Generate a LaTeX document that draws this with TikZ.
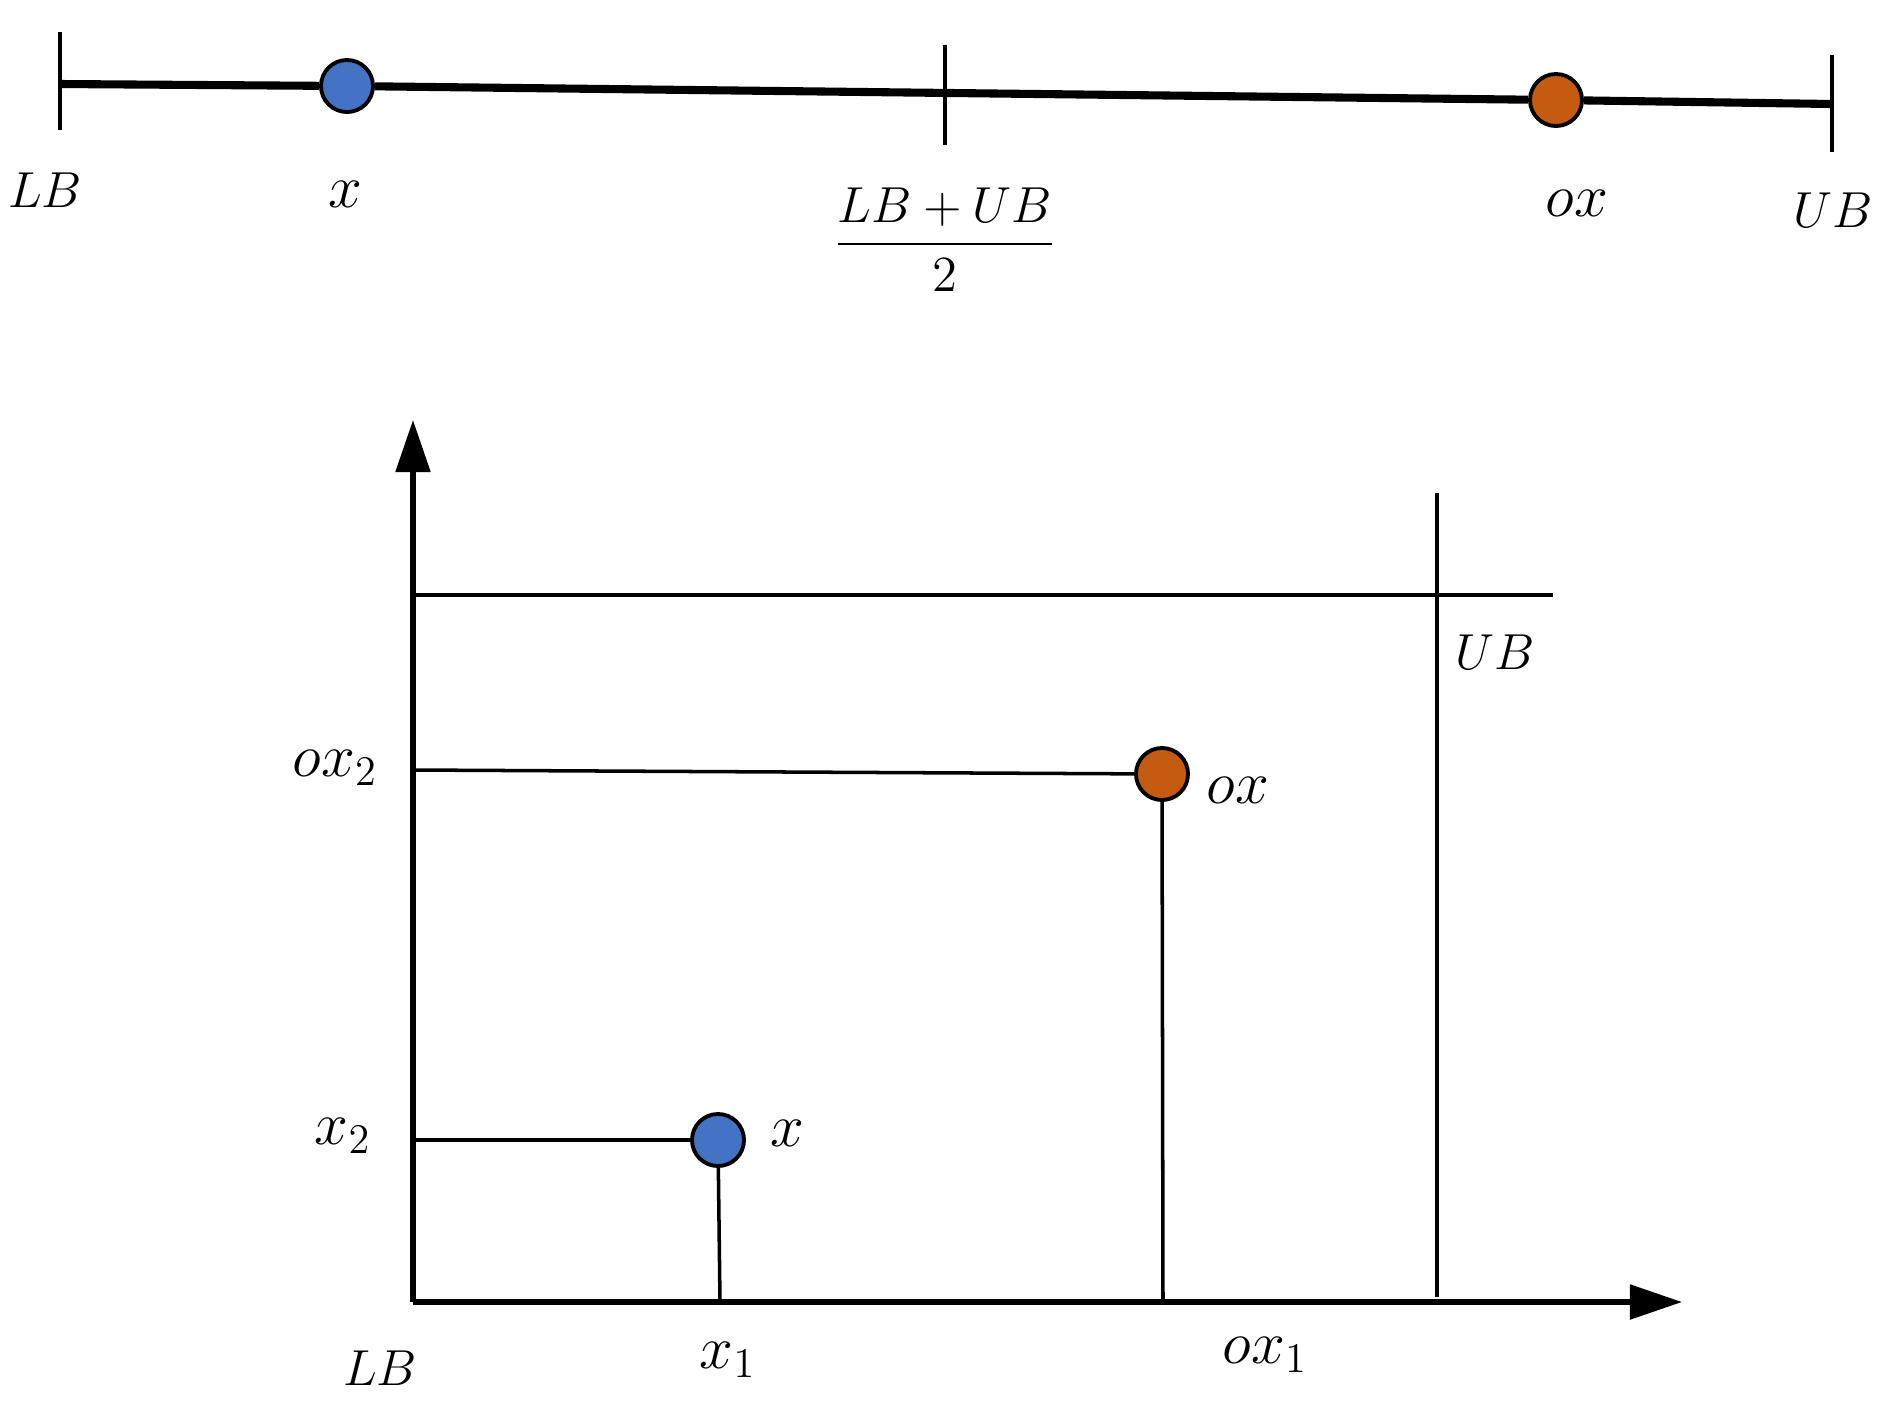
\documentclass[tikz,border=0pt]{standalone}
\usepackage{amsmath}
\usetikzlibrary{arrows.meta}

\tikzset{
	pt/.style={shape=circle,draw=black,line width=1.1pt,minimum size=0.52cm,inner sep=0pt},
	lbl/.style={font=\fontsize{15}{18}\selectfont},
	axis/.style={line width=1.5pt,-{Triangle[length=0.52cm,width=0.34cm]}},
	thin/.style={line width=1pt}
}
\definecolor{ptblue}{RGB}{68,114,196}
\definecolor{ptorange}{RGB}{197,90,17}

\begin{document}
\begin{tikzpicture}[x=0.01cm,y=-0.01cm]
	\useasboundingbox (0,0) rectangle (1878,1411);
	
	% top: the range
	\coordinate (lb) at (60,84);
	\coordinate (mid) at (945,94);
	\coordinate (ub) at (1832,104);
	\node[pt,fill=ptblue]   (x)  at (347,86)   {};
	\node[pt,fill=ptorange] (ox) at (1556,100) {};
	\draw[line width=2.3pt] (lb) -- (x) -- (ox) -- (ub);
	\draw[line width=1.2pt] (60,32) -- (60,130);
	\draw[line width=1.2pt] (945,45) -- (945,145);
	\draw[line width=1.2pt] (1832,55) -- (1832,152);
	\node[lbl] (lbt)  at (45,190)   {$LB$};
	\node[lbl] (xt)   at (345,194)  {\fontsize{17}{20}\selectfont$x$};
	\node[lbl] (midt) at (945,240)  {$\dfrac{LB+UB}{2}$};
	\node[lbl] (oxt)  at (1577,203) {\fontsize{17}{20}\selectfont$ox$};
	\node[lbl] (ubt)  at (1833,210) {$UB$};
	
	% bottom: the plane
	\coordinate (o) at (413,1302);
	\coordinate (xend) at (1682,1302);
	\coordinate (yend) at (413,420);
	\node[pt,fill=ptblue]   (p)  at (718,1140) {};
	\node[pt,fill=ptorange] (op) at (1162,774) {};
	\coordinate (px) at (720,1302);
	\coordinate (py) at (413,1140);
	\coordinate (opx) at (1163,1302);
	\coordinate (opy) at (413,770);
	\draw[axis] (o) -- (xend);
	\draw[axis] (o) -- (yend);
	\draw[thin] (413,595) -- (1553,595);
	\draw[thin] (1437,493) -- (1437,1297);
	\draw[thin] (py) -- (p);
	\draw[thin] (p) -- (px);
	\draw[thin] (opy) -- (op);
	\draw[thin] (op) -- (opx);
	\node[lbl] (ubb)  at (1495,652)  {$UB$};
	\node[lbl] (ox2)  at (335,768)   {\fontsize{17}{20}\selectfont$ox_2$};
	\node[lbl] (x2)   at (343,1136)  {\fontsize{17}{20}\selectfont$x_2$};
	\node[lbl] (pl)   at (787,1133)  {\fontsize{17}{20}\selectfont$x$};
	\node[lbl] (opl)  at (1238,790)  {\fontsize{17}{20}\selectfont$ox$};
	\node[lbl] (lbb)  at (380,1368)  {$LB$};
	\node[lbl] (x1)   at (728,1360)  {\fontsize{17}{20}\selectfont$x_1$};
	\node[lbl] (ox1)  at (1265,1355) {\fontsize{17}{20}\selectfont$ox_1$};
	
\end{tikzpicture}
\end{document}
